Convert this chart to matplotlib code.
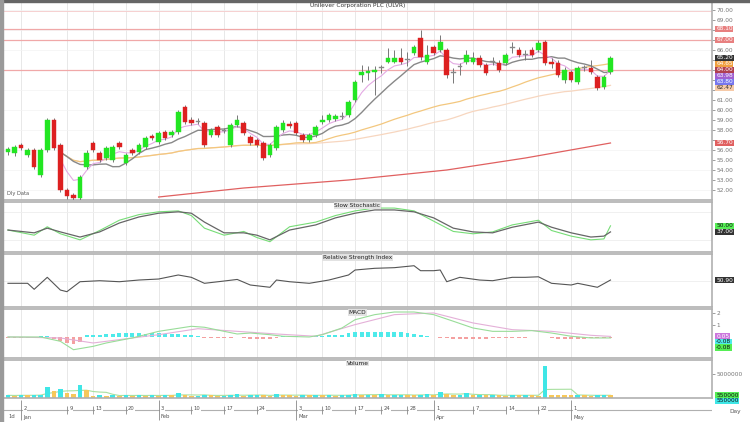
import numpy as np
import pandas as pd
import matplotlib
matplotlib.use("Agg")
import matplotlib.pyplot as plt
from matplotlib.patches import Rectangle

# ---------------- data ----------------
title = "Unilever Corporation PLC (ULVR)"
opens = [55.8,55.7,56.5,55.5,56.0,53.5,56.0,59.0,56.5,52.0,
         51.5,51.2,54.3,56.7,55.7,55.2,55.0,56.7,54.7,56.0,
         55.8,56.3,57.4,56.8,57.8,57.5,57.8,60.3,59.0,58.9,
         58.7,57.5,58.3,58.0,56.5,58.5,58.7,57.3,57.0,56.7,
         55.5,56.2,58.0,58.6,58.7,57.5,57.0,57.5,58.8,59.0,
         59.1,59.3,59.5,61.0,63.5,63.7,63.8,64.2,64.8,64.8,
         65.2,65.0,65.7,67.2,64.8,66.3,66.0,66.0,63.8,64.3,
         64.8,64.8,65.2,64.5,64.8,64.7,64.7,66.2,66.0,65.5,
         66.0,66.0,66.8,64.8,64.7,63.0,63.8,62.8,64.3,64.2,
         63.3,62.3,63.8]
closes = [56.1,56.3,56.2,56.0,54.3,56.0,59.0,56.2,52.0,51.4,
          51.2,53.3,55.7,56.0,55.0,56.2,56.3,56.3,55.5,55.7,
          56.5,57.2,57.2,57.7,57.2,57.8,59.8,58.8,58.7,58.8,
          56.5,58.0,57.5,57.9,58.5,59.0,57.7,56.7,56.5,55.2,
          56.5,58.3,58.7,58.4,57.7,57.0,57.5,58.3,59.0,59.5,
          59.4,59.4,60.8,62.8,63.8,63.9,64.0,64.3,65.2,65.2,
          64.8,65.1,66.3,65.3,65.5,65.7,66.8,63.5,63.7,64.4,
          65.5,65.2,64.5,63.7,64.9,64.0,65.5,66.3,65.5,65.6,
          65.5,66.7,64.7,64.6,63.5,64.0,63.0,64.2,64.2,63.8,
          62.2,63.3,65.2]
highs = [56.3,56.5,56.7,56.2,56.2,56.2,59.2,59.2,56.7,52.2,
         51.7,53.5,56.0,56.9,55.9,56.4,56.5,56.9,55.7,56.2,
         56.7,57.4,57.6,57.9,58.0,58.0,60.0,60.5,59.3,59.2,
         58.9,58.2,58.5,58.2,58.7,59.5,58.9,57.5,57.2,56.9,
         56.7,58.5,59.0,58.9,58.9,57.7,57.7,58.5,59.5,59.7,
         59.6,59.8,61.0,63.0,64.5,64.4,64.4,64.5,66.2,66.0,
         66.2,65.8,66.5,68.0,66.5,66.5,67.5,66.2,64.2,64.7,
         66.0,65.8,65.5,64.7,65.3,65.0,65.7,66.8,66.3,66.0,
         66.3,67.0,67.0,65.2,65.0,64.3,64.0,64.4,64.5,65.0,
         63.5,63.5,65.4]
lows = [55.5,55.4,56.0,55.3,54.1,53.3,55.8,56.0,51.8,51.1,
        51.0,51.0,54.1,55.8,54.8,55.0,54.8,56.1,54.5,55.5,
        55.6,56.1,57.0,56.6,57.0,57.3,57.6,58.6,58.5,58.6,
        56.3,57.3,57.3,57.7,56.3,58.3,57.5,56.5,56.3,55.0,
        55.3,56.0,57.8,58.2,57.5,56.8,56.8,57.3,58.6,58.8,
        58.9,59.1,59.3,60.8,62.8,63.0,61.5,63.7,64.7,64.7,
        64.6,64.4,65.5,65.0,64.6,65.5,65.8,63.2,62.7,63.5,
        64.6,64.6,64.3,63.5,64.5,63.8,64.5,65.7,65.3,65.0,
        65.3,65.8,64.5,64.2,63.3,62.7,62.8,62.6,63.9,63.6,
        62.0,62.1,63.6]
volumes_m = [0.55,0.5,0.6,0.55,0.6,0.7,2.2,1.5,1.8,1.1,
             0.8,2.6,1.7,0.45,0.55,0.5,0.6,0.45,0.55,0.5,
             0.6,0.5,0.55,0.45,0.6,0.55,1.0,0.55,0.45,0.5,
             0.7,0.55,0.45,0.5,0.6,0.8,0.5,0.55,0.6,0.55,
             0.5,0.75,0.6,0.55,0.5,0.6,0.55,0.6,0.55,0.6,
             0.5,0.55,0.7,0.85,0.6,0.7,0.55,0.85,0.55,0.6,
             0.7,0.6,0.55,0.7,0.75,0.6,1.2,0.9,0.6,0.7,
             1.05,0.55,0.6,0.55,0.6,0.55,0.5,0.6,0.55,0.6,
             0.55,0.5,6.5,0.7,0.65,0.6,0.55,0.6,0.55,0.5,
             0.55,0.6,0.55]
ma200_idx = [23, 36, 52, 67, 79, 92]
ma200_val = [51.3, 52.2, 53.0, 54.0, 55.2, 56.7]
levels = [68.1, 67.0, 64.0]

# indicator readings (candle index, value)
stoch_idx = [0, 4, 6, 8, 11, 14, 17, 20, 23, 26, 28, 30, 33, 36, 38, 40, 43, 47, 50, 53,
             56, 59, 62, 65, 68, 71, 74, 77, 81, 83, 86, 89, 91, 92]
stoch_k = [41, 30, 48, 33, 20, 40, 62, 74, 80, 82, 72, 45, 30, 38, 25, 16, 48, 58, 72, 82,
           88, 88, 82, 60, 38, 33, 37, 52, 62, 40, 28, 20, 22, 50]
stoch_d = [41, 35, 45, 37, 26, 37, 56, 69, 77, 80, 77, 58, 35, 35, 30, 20, 41, 52, 67, 77,
           84, 84, 80, 67, 45, 37, 35, 47, 58, 47, 35, 26, 28, 37]
rsi_idx = [0, 3, 4, 6, 8, 9, 11, 14, 17, 20, 23, 26, 28, 30, 33, 35, 37, 40, 41, 43, 46, 49,
           52, 53, 56, 59, 62, 63, 65, 66, 67, 69, 72, 74, 77, 79, 81, 83, 86, 87, 90, 92]
rsi_val = [44.7, 44.7, 33.4, 56.0, 32.0, 28.9, 47.7, 49.6, 47.7, 50.9, 52.8, 60.4, 56.0, 44.7,
           49.0, 52.0, 41.5, 37.2, 50.9, 47.7, 44.7, 50.9, 60.4, 69.8, 73.0, 74.2, 77.9, 68.5,
           68.5, 69.8, 47.7, 56.0, 50.9, 49.6, 56.0, 56.0, 57.0, 44.7, 41.5, 44.7, 37.2, 50.9]
macd_idx = [0, 5, 8, 10, 13, 15, 19, 23, 28, 30, 33, 35, 37, 40, 42, 46, 48, 51, 53, 56,
            59, 62, 65, 68, 71, 74, 77, 80, 83, 86, 89, 92]
macd_val = [0.0, 0.0, -0.36, -1.06, -0.78, -0.5, -0.08, 0.47, 0.89, 0.81, 0.47, 0.25, 0.33,
            0.19, 0.06, 0.0, 0.19, 0.75, 1.44, 1.86, 2.08, 2.08, 1.86, 1.31, 0.75, 0.47, 0.47,
            0.53, 0.33, 0.06, -0.08, -0.08]
signal_idx = [0, 8, 13, 17, 23, 29, 35, 41, 47, 53, 59, 65, 71, 77, 83, 89, 92]
signal_val = [0.0, -0.08, -0.5, -0.22, 0.19, 0.69, 0.47, 0.25, 0.06, 1.03, 1.86, 2.0, 1.17,
              0.61, 0.47, 0.14, 0.05]
macd_hist = [-0.08, -0.08, -0.08, -0.08, -0.08, 0.08, 0.1,
             -0.2, -0.35, -0.5, -0.55, -0.45,
             0.15, 0.2, 0.2, 0.25, 0.25, 0.3, 0.3, 0.3, 0.3, 0.28, 0.3, 0.3, 0.28, 0.25, 0.25, 0.2, 0.15, 0.12,
             -0.1, -0.1, -0.12, -0.1, -0.05, 0.0, -0.05,
             -0.15, -0.18, -0.18, -0.15, -0.1,
             0.08, 0.08, 0.06, 0.03, 0.03, 0.05,
             0.12, 0.14, 0.16, 0.2, 0.3, 0.38, 0.42, 0.42, 0.42, 0.42, 0.42, 0.4, 0.38, 0.3, 0.22, 0.15,
             0.05, 0.0, -0.05,
             -0.12, -0.14, -0.15, -0.15, -0.15, -0.14, -0.14, -0.12, -0.12, -0.12, -0.1, -0.1, -0.08,
             0.04, 0.02, -0.04,
             -0.12, -0.14, -0.14, -0.15, -0.15, -0.14, -0.12, -0.12, -0.1, -0.08]

tick_idx = [2, 9, 13, 18, 23, 28, 33, 38, 44, 48, 53, 57, 61, 65, 71, 76, 81, 86]
tick_lbl = ['2', '9', '13', '20', '3', '10', '17', '24', '3', '10', '17', '24', '28', '1', '7', '14', '22', '1']
month_idx = [2, 23, 44, 65, 86]
month_lbl = ['Jan', 'Feb', 'Mar', 'Apr', 'May']
panel_titles = ["Slow Stochastic", "Relative Strength Index", "MACD", "Volume"]

# ---------------- derived ----------------
o = pd.Series(opens); c = pd.Series(closes); h = pd.Series(highs); l = pd.Series(lows)
v = pd.Series(volumes_m)
n = len(c)
idx = np.arange(n)

ma_fast = c.ewm(span=5, adjust=False).mean(); ma_fast[:8] = np.nan
ma10 = c.rolling(10, min_periods=9).mean()
ma40 = c.rolling(40, min_periods=9).mean()
ma60 = c.rolling(60, min_periods=9).mean()
vol_ma = v.rolling(5, min_periods=1).mean()

# ---------------- figure ----------------
W, H = 750, 422
fig = plt.figure(figsize=(W/100, H/100), dpi=100)
fig.patch.set_facecolor("white")
L, R = 3, 712

def ax_at(top, bot):
    ax = fig.add_axes([L/W, 1-bot/H, (R-L)/W, (bot-top)/H])
    for s in ax.spines.values():
        s.set_color("#b0b0b0"); s.set_linewidth(1.2)
    return ax

xl = (-0.76, 107.5)
FS = 4.2
GRID = "#e4e4e4"

def style(ax):
    ax.set_xlim(*xl)
    ax.set_xticks([])
    ax.yaxis.tick_right()
    ax.tick_params(axis="y", labelsize=FS, colors="#777777", length=2, width=0.5, pad=1)
    for t in tick_idx:
        ax.axvline(t, color=GRID, lw=0.6, zorder=0)

def place_tags(ax, items, gap=6.0):
    # items: (value, text, facecolor, textcolor); spread vertically so they do not overlap
    disp = [(ax.transData.transform((0, it[0]))[1], it) for it in items]
    disp.sort(key=lambda t: -t[0])
    prev = None
    placed = []
    for y, it in disp:
        if prev is not None and prev - y < gap:
            y = prev - gap
        prev = y
        placed.append(y)
        yd = ax.transData.inverted().transform((0, y))[1]
        ax.annotate(it[1], xy=(1.0, yd), xycoords=("axes fraction", "data"), xytext=(3, 0),
                    textcoords="offset points", fontsize=FS, ha="left", va="center", color=it[3],
                    bbox=dict(boxstyle="square,pad=0.12", fc=it[2], ec="none"),
                    annotation_clip=False, zorder=20)
    # the tags cover the axis labels they sit on
    for tv, lab in zip(ax.get_yticks(), ax.get_yticklabels()):
        ty = ax.transData.transform((0, tv))[1]
        if any(abs(ty - py) < 6.5 for py in placed):
            lab.set_visible(False)

def ptitle(ax, text):
    ax.text(0.5, 0.985, text, transform=ax.transAxes, ha="center", va="top", fontsize=FS,
            color="#222222", bbox=dict(boxstyle="square,pad=0.15", fc="#e2e2e2", ec="none"))

# main price panel
ax = ax_at(2, 200)
style(ax)
ax.set_ylim(51.0, 70.8)
yt = np.arange(52, 71, 1)
ax.set_yticks(yt)
ax.set_yticklabels([f"{t:.2f}" for t in yt])
for yv in np.arange(52, 71, 2):
    ax.axhline(yv, color="#f3f3f3", lw=0.5, zorder=0)
for lv in levels:
    ax.axhline(lv, color="#f0a8a8", lw=0.9, zorder=1)
ax.axhline(69.9, color="#f6d0d0", lw=0.7, zorder=1)

ax.plot(ma200_idx, ma200_val, color="#e06060", lw=0.9, zorder=2)
ax.plot(idx, ma60, color="#f7d6bf", lw=0.9, zorder=2)
ax.plot(idx, ma40, color="#f3c77e", lw=0.9, zorder=2)
ax.plot(idx, ma10, color="#888888", lw=1.0, zorder=2)
ax.plot(idx, ma_fast, color="#e3a9e3", lw=0.8, zorder=2)

body_lo = np.minimum(o, c); body_h = np.maximum(np.abs(c - o), 0.12)
cols = ["#888888" if abs(cc - oo) < 0.15 else ("#22e622" if cc > oo else "#dd2020")
        for oo, cc in zip(opens, closes)]
ax.vlines(idx, l, h, color="#777777", lw=0.7, zorder=3)
ax.bar(idx, body_h, bottom=body_lo, width=0.7, color=cols, edgecolor=cols, lw=0.3, zorder=4)
ax.text(0.5, 0.995, title, transform=ax.transAxes, ha="center", va="top", fontsize=FS, color="#333333")
ax.text(0.006, 0.02, "Dly Data", transform=ax.transAxes, ha="left", va="bottom", fontsize=FS-0.5, color="#555555")

place_tags(ax, [
    (levels[0], f"{levels[0]:.2f}", "#e88080", "white"),
    (levels[1], f"{levels[1]:.2f}", "#e88080", "white"),
    (closes[-1], f"{closes[-1]:.2f}", "#333333", "white"),
    (levels[2], f"{levels[2]:.2f}", "#b04050", "white"),
    (ma_fast.iloc[-1], f"{ma_fast.iloc[-1]:.2f}", "#a060d0", "white"),
    (ma10.iloc[-1], f"{ma10.iloc[-1]:.2f}", "#7777ee", "white"),
    (ma40.iloc[-1], f"{ma40.iloc[-1]:.2f}", "#f0a040", "white"),
    (ma60.iloc[-1], f"{ma60.iloc[-1]:.2f}", "#f6caa8", "#333333"),
    (ma200_val[-1], f"{ma200_val[-1]:.2f}", "#e06060", "white"),
])

# stochastic
ax1 = ax_at(202, 252)
style(ax1)
ax1.set_ylim(-6, 101)
ax1.set_yticks([])
ax1.axhline(20, color="#eeeeee", lw=0.6, zorder=0); ax1.axhline(80, color="#eeeeee", lw=0.6, zorder=0)
ax1.plot(stoch_idx, stoch_k, color="#77dd77", lw=0.8)
ax1.plot(stoch_idx, stoch_d, color="#666666", lw=0.9)
ptitle(ax1, panel_titles[0])
place_tags(ax1, [(stoch_k[-1], f"{stoch_k[-1]:.2f}", "#55ee55", "#111111"),
                 (stoch_d[-1], f"{stoch_d[-1]:.2f}", "#333333", "white")])

# RSI
ax2 = ax_at(254, 307)
style(ax2)
ax2.set_ylim(0, 100)
ax2.set_yticks([])
ax2.axhline(50, color="#eeeeee", lw=0.6, zorder=0)
ax2.plot(rsi_idx, rsi_val, color="#555555", lw=0.8)
ptitle(ax2, panel_titles[1])
place_tags(ax2, [(rsi_val[-1], f"{rsi_val[-1]:.2f}", "#333333", "white")])

# MACD
ax3 = ax_at(309, 358)
style(ax3)
ax3.set_ylim(-1.75, 2.33)
ax3.set_yticks([1, 2]); ax3.set_yticklabels(["1", "2"])
hcols = ["#4eeaea" if x >= 0 else "#f4a0a0" for x in macd_hist]
ax3.bar(idx, macd_hist, width=0.6, color=hcols, zorder=2)
ax3.plot(signal_idx, signal_val, color="#e4b0d8", lw=0.8, zorder=3)
ax3.plot(macd_idx, macd_val, color="#99dd99", lw=0.8, zorder=3)
ptitle(ax3, panel_titles[2])
place_tags(ax3, [(macd_hist[-1], f"{macd_hist[-1]:.2f}", "#4eeaea", "#111111"),
                 (macd_val[-1], f"{macd_val[-1]:.2f}", "#55ee55", "#111111"),
                 (signal_val[-1], f"{signal_val[-1]:.2f}", "#cc77dd", "white")], gap=5.5)

# Volume
ax4 = ax_at(360, 398)
style(ax4)
ax4.set_ylim(0, 7.8)
ax4.set_yticks([5]); ax4.set_yticklabels(["5000000"])
vcols = ["#3fe6e6" if (i == 0 or volumes_m[i] >= volumes_m[i-1]) else "#f7c85a" for i in range(n)]
ax4.plot(idx, vol_ma, color="#a8e0a0", lw=0.8, zorder=1)
ax4.bar(idx, v, width=0.7, color=vcols, zorder=2)
ptitle(ax4, panel_titles[3])
place_tags(ax4, [(vol_ma.iloc[-1], f"{vol_ma.iloc[-1]*1e6:.0f}", "#55ee55", "#111111"),
                 (v.iloc[-1], f"{v.iloc[-1]*1e6:.0f}", "#3fe6e6", "#111111")], gap=5.5)

# date strip
axd = fig.add_axes([L/W, 0, (R-L)/W, 24/H])
axd.axis("off")
axd.set_xlim(*xl)
axd.set_ylim(422, 398)
axd.hlines(410, xl[0], xl[1], color="#b0b0b0", lw=0.8)
for t, lab in zip(tick_idx, tick_lbl):
    major = t in month_idx
    axd.vlines(t, 400 if major else 406, 420 if major else 414, color="#888888", lw=0.6)
    axd.text(t + 0.35, 409, lab, fontsize=FS - 0.4, ha="left", va="center", color="#555555",
             bbox=dict(boxstyle="square,pad=0.1", fc="white", ec="none"))
for t, lab in zip(month_idx, month_lbl):
    axd.text(t + 0.35, 417, lab, fontsize=FS - 0.4, ha="left", va="center", color="#555555")
fig.text(8/W, 1-417/H, "1d", fontsize=FS - 0.4, color="#555555", ha="left", va="center")
fig.text(735/W, 1-412/H, "Day", fontsize=FS, color="#555555", ha="center", va="center")

# frame decorations
fig.patches.append(Rectangle((0, 1-2/H), 1, 2/H, transform=fig.transFigure, color="#666666", zorder=10))
fig.patches.append(Rectangle((0, 0), 3/W, 1, transform=fig.transFigure, color="#9a9a9a", zorder=10))

fig.savefig("out.png", dpi=100, facecolor="white")
